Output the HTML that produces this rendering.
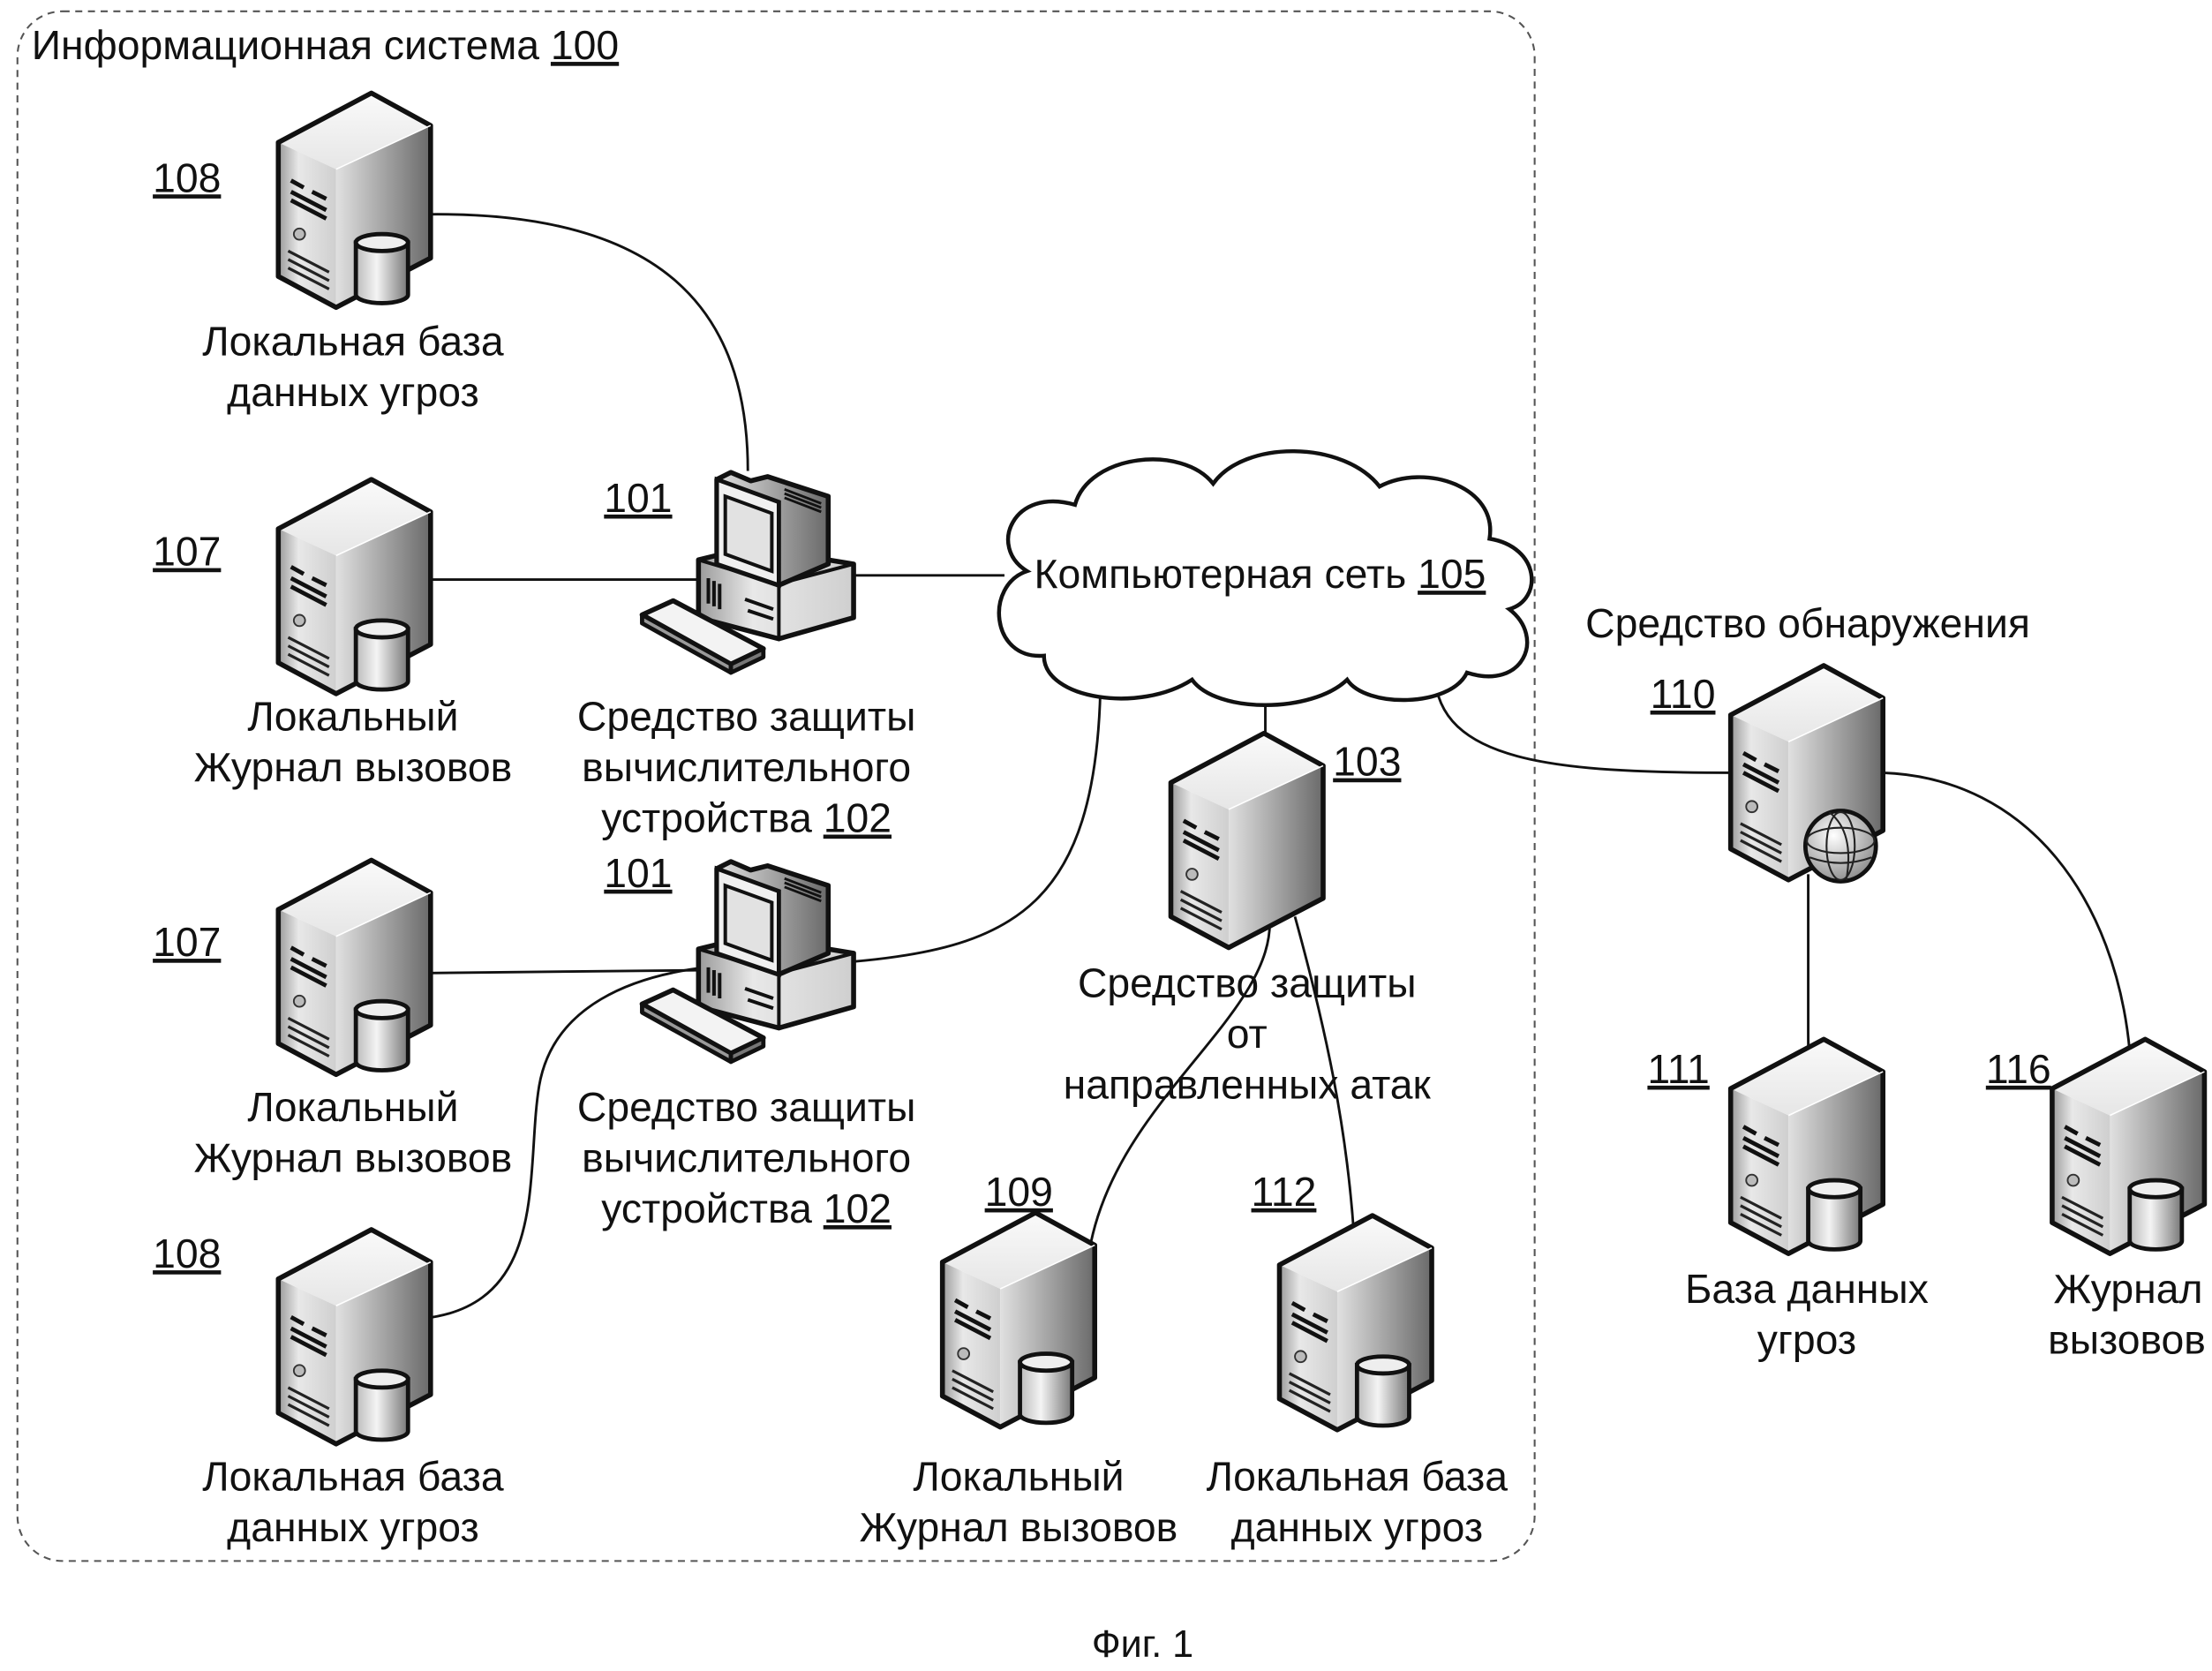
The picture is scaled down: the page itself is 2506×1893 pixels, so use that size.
<!DOCTYPE html>
<html><head><meta charset="utf-8"><style>
html,body{margin:0;padding:0;background:#fff}
svg{display:block}
text{font-family:"Liberation Sans","Noto Sans CJK SC",sans-serif;font-size:29px;fill:#111}
.u{text-decoration:underline}
</style></head><body>
<svg width="2506" height="1893" viewBox="0 0 1568 1185" xmlns="http://www.w3.org/2000/svg">
<defs>
<linearGradient id="gf" x1="0" y1="0" x2="1" y2="0"><stop offset="0" stop-color="#9a9a9a"/><stop offset="0.35" stop-color="#e8e8e8"/><stop offset="1" stop-color="#cfcfcf"/></linearGradient>
<linearGradient id="gr" x1="0" y1="0" x2="1" y2="0"><stop offset="0" stop-color="#e0e0e0"/><stop offset="1" stop-color="#6a6a6a"/></linearGradient>
<linearGradient id="gt" x1="0" y1="0" x2="0" y2="1"><stop offset="0" stop-color="#fafafa"/><stop offset="1" stop-color="#e6e6e6"/></linearGradient>
<linearGradient id="gc" x1="0" y1="0" x2="1" y2="0"><stop offset="0" stop-color="#bbb"/><stop offset="0.4" stop-color="#f4f4f4"/><stop offset="1" stop-color="#777"/></linearGradient>
<radialGradient id="gg" cx="0.4" cy="0.35" r="0.7"><stop offset="0" stop-color="#fff"/><stop offset="1" stop-color="#8a8a8a"/></radialGradient>
<g id="srv">
<polygon points="0,35 66,0 108,23 41,54" fill="url(#gt)"/>
<polygon points="0,35 41,54 41,152 0,130" fill="url(#gf)"/>
<polygon points="41,54 108,23 108,117 41,152" fill="url(#gr)"/>
<polygon points="0,35 66,0 108,23 108,117 41,152 0,130" fill="none" stroke="#111" stroke-width="3.5" stroke-linejoin="round"/>
<line x1="41" y1="54" x2="108" y2="23" stroke="#fff" stroke-width="1"/>
<path d="M9,62 L18,67 M24,70 L34,75 M9,70 L34,83 M9,76 L34,89" stroke="#111" stroke-width="3"/>
<circle cx="15" cy="100" r="4" fill="#bbb" stroke="#333" stroke-width="1.2"/>
<path d="M7,112 L36,127 M7,118 L36,133 M7,124 L36,139" stroke="#222" stroke-width="2"/>
</g>
<g id="cyl">
<path d="M55,106 L55,143 A18.5,6 0 0 0 92,143 L92,106 Z" fill="url(#gc)" stroke="#111" stroke-width="3"/>
<ellipse cx="73.5" cy="106" rx="18.5" ry="6" fill="#eee" stroke="#111" stroke-width="3"/>
</g>
<g id="sdb"><use href="#srv"/><use href="#cyl"/></g>
<g id="pc">
<polygon points="43,67 80,58 153,70 153,108 100,123 43,108" fill="url(#gf)" stroke="#111" stroke-width="3.5" stroke-linejoin="round"/>
<polyline points="43,67 100,84 153,70" fill="none" stroke="#111" stroke-width="2.5"/>
<line x1="100" y1="84" x2="100" y2="123" stroke="#111" stroke-width="2.5"/>
<path d="M50,80 L50,98 M54,82 L54,100 M58,84 L58,102 M76,95 L96,102 M78,103 L96,109" stroke="#111" stroke-width="2.5"/>
<polygon points="56,10 66,5 80,11 92,8 135,22 135,70 100,85 56,70" fill="url(#gr)" stroke="#111" stroke-width="3.5" stroke-linejoin="round"/>
<polygon points="56,10 100,26 100,85 56,70" fill="#f0f0f0" stroke="#111" stroke-width="3"/>
<polygon points="62,22 95,34 95,75 62,63" fill="#e2e2e2" stroke="#111" stroke-width="2.5"/>
<path d="M104,17 L130,27 M104,20 L130,30 M104,23 L130,33" stroke="#111" stroke-width="1.8"/>
<polygon points="3,106 25,96 89,130 66,141" fill="#f3f3f3" stroke="#111" stroke-width="3.5" stroke-linejoin="round"/>
<polygon points="3,106 66,141 66,147 3,112" fill="#999" stroke="#111" stroke-width="3" stroke-linejoin="round"/>
<polygon points="66,141 89,130 89,136 66,147" fill="#777" stroke="#111" stroke-width="3" stroke-linejoin="round"/>
</g>
</defs>

<rect x="12" y="8" width="1076" height="1099" rx="32" fill="none" stroke="#555" stroke-width="1.3" stroke-dasharray="5,4"/>

<g fill="none" stroke="#111" stroke-width="1.8">
<path d="M303,152 C470,150 530,220 530,334"/>
<line x1="305" y1="411" x2="500" y2="411"/>
<line x1="604" y1="408" x2="712" y2="408"/>
<path d="M780,490 C776,640 720,672 604,682"/>
<line x1="305" y1="690" x2="500" y2="688"/>
<path d="M300,935 C390,925 372,830 382,770 C392,712 450,692 500,686"/>
<line x1="897" y1="496" x2="897" y2="522"/>
<path d="M900,650 C905,720 790,780 772,888"/>
<path d="M918,650 C940,730 955,800 960,878"/>
<path d="M1017,478 C1020,540 1100,548 1228,548"/>
<line x1="1282" y1="620" x2="1282" y2="742"/>
<path d="M1335,548 C1440,552 1500,640 1510,745"/>
</g>

<path d="M740,465 C702,468 698,415 728,405 C700,388 718,345 762,358 C772,322 838,315 860,343 C882,312 952,312 978,345 C1010,328 1062,345 1056,382 C1092,388 1094,425 1070,432 C1096,452 1080,490 1040,477 C1028,502 968,502 955,482 C930,506 862,506 845,482 C808,506 740,496 740,465 Z" fill="#fff" stroke="#111" stroke-width="2.8"/>

<use href="#sdb" x="197" y="66"/>
<use href="#sdb" x="197" y="340"/>
<use href="#sdb" x="197" y="610"/>
<use href="#sdb" x="197" y="872"/>
<use href="#srv" x="830" y="520"/>
<use href="#srv" x="1227" y="472"/>
<g transform="translate(1305,600)">
<circle r="25" fill="url(#gg)" stroke="#111" stroke-width="3"/>
<g fill="none" stroke="#222" stroke-width="1.3">
<ellipse rx="10" ry="24"/><ellipse rx="24" ry="9" cy="-4"/><path d="M-22,8 Q0,16 22,8"/><path d="M-8,-24 Q10,-10 4,24"/>
</g></g>
<use href="#sdb" x="1227" y="737"/>
<use href="#sdb" x="1455" y="737"/>
<use href="#sdb" x="668" y="860"/>
<use href="#sdb" x="907" y="862"/>

<use href="#pc" x="452" y="330"/>
<use href="#pc" x="452" y="606"/>

<text x="22" y="42">Информационная система <tspan class="u">100</tspan></text>
<text x="108" y="136" class="u">108</text>
<text x="108" y="401" class="u">107</text>
<text x="108" y="678" class="u">107</text>
<text x="108" y="899" class="u">108</text>
<text x="428" y="363" class="u">101</text>
<text x="428" y="629" class="u">101</text>
<g text-anchor="middle">
<text x="250" y="252">Локальная база</text><text x="250" y="288">данных угроз</text>
<text x="250" y="518">Локальный</text><text x="250" y="554">Журнал вызовов</text>
<text x="250" y="795">Локальный</text><text x="250" y="831">Журнал вызовов</text>
<text x="250" y="1057">Локальная база</text><text x="250" y="1093">данных угроз</text>
<text x="529" y="518">Средство защиты</text><text x="529" y="554">вычислительного</text><text x="529" y="590">устройства <tspan class="u">102</tspan></text>
<text x="529" y="795">Средство защиты</text><text x="529" y="831">вычислительного</text><text x="529" y="867">устройства <tspan class="u">102</tspan></text>
<text x="884" y="707">Средство защиты</text><text x="884" y="743">от</text><text x="884" y="779">направленных атак</text>
<text x="722" y="1057">Локальный</text><text x="722" y="1093">Журнал вызовов</text>
<text x="962" y="1057">Локальная база</text><text x="962" y="1093">данных угроз</text>
<text x="1281" y="924">База данных</text><text x="1281" y="960">угроз</text>
<text x="810" y="1175" style="font-size:27px">Фиг. 1</text>
</g>
<text x="733" y="417">Компьютерная сеть <tspan class="u">105</tspan></text>
<text x="1124" y="452">Средство обнаружения</text>
<text x="1170" y="502" class="u">110</text>
<text x="945" y="550" class="u">103</text>
<text x="698" y="855" class="u">109</text>
<text x="887" y="855" class="u">112</text>
<text x="1168" y="768" class="u">111</text>
<text x="1408" y="768" class="u">116</text>
<text x="1456" y="924">Журнал</text>
<text x="1452" y="960">вызовов</text>
</svg>
</body></html>
